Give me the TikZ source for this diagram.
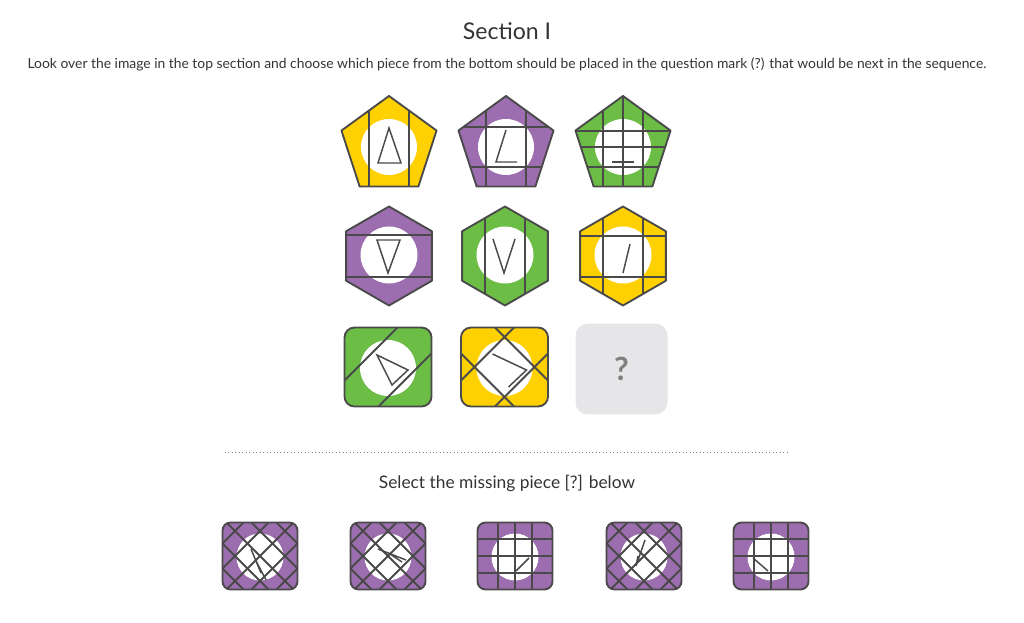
\documentclass[tikz,border=0pt]{standalone}
\usepackage{fontspec}
\setmainfont{Lato}
\usetikzlibrary{positioning}
\definecolor{pieceyellow}{HTML}{FFD100}
\definecolor{piecepurple}{HTML}{9C6DAF}
\definecolor{piecegreen}{HTML}{6BBD45}
\definecolor{edgegray}{HTML}{4A4A4A}
\definecolor{textgray}{HTML}{333333}
\definecolor{blankgray}{HTML}{E6E6E9}
\tikzstyle{outline} = [draw=edgegray, line width=1.4pt, line join=round]
\tikzstyle{cutline} = [draw=edgegray, line width=1.4pt]
\tikzstyle{figline} = [draw=edgegray, line width=1.1pt, line join=miter]
\tikzstyle{heading} = [text=textgray, inner sep=0pt]
\tikzstyle{blank-piece} = [rectangle, rounded corners=9pt, minimum width=69pt, minimum height=68pt, fill=blankgray, text=gray, font=\fontsize{24}{28}\selectfont\bfseries]
\def\pentpath{(-90:50) -- (-18:50) -- (54:50) -- (126:50) -- (198:50) -- cycle}
\def\hexpath{(-90:49.5) -- (-30:49.5) -- (30:49.5) -- (90:49.5) -- (150:49.5) -- (210:49.5) -- cycle}
\def\sqpath{[rounded corners=7.5pt] (-43.5,-39.5) rectangle (43.5,39.5)}
\def\optpath{[rounded corners=6pt] (-37.5,-33.5) rectangle (37.5,33.5)}

\begin{document}
\begin{tikzpicture}[x=0.75pt, y=-0.75pt]
    \useasboundingbox (0,0) rectangle (1024,623);

    % texts
    \node (title) [heading] at (507,31) {\fontsize{17.3}{21}\selectfont Section I};
    \node (instruction) [heading] at (507,64) {\fontsize{10.4}{12}\selectfont Look over the image in the top section and choose which piece from the bottom should be placed in the question mark (?) that would be next in the sequence.};
    \node (prompt) [heading] at (507,483) {\fontsize{13}{15}\selectfont Select the missing piece [?] below};
    \coordinate (rule-left) at (225,452);
    \coordinate (rule-right) at (790,452);
    \draw [gray, dotted, line width=0.6pt] (rule-left) -- (rule-right);

    % row 1: pentagons
    \begin{scope}[shift={(389,146)}]
        \fill [pieceyellow] \pentpath;
        \fill [white] (0,1) circle (28);
        \begin{scope} \clip \pentpath;
            \draw [cutline] (-20,-60) -- (-20,60) (20,-60) -- (20,60);
        \end{scope}
        \draw [outline] \pentpath;
        \draw [figline] (0,-18) -- (-11,17) -- (12,17) -- cycle;
    \end{scope}
    \begin{scope}[shift={(506,146)}]
        \fill [piecepurple] \pentpath;
        \fill [white] (0,1) circle (28);
        \begin{scope} \clip \pentpath;
            \draw [cutline] (-20,-60) -- (-20,60) (20,-60) -- (20,60);
            \draw [cutline] (-60,-19) -- (60,-19) (-60,21) -- (60,21);
        \end{scope}
        \draw [outline] \pentpath;
        \draw [figline] (0,-16) -- (-10,16) -- (11,16);
    \end{scope}
    \begin{scope}[shift={(623,146)}]
        \fill [piecegreen] \pentpath;
        \fill [white] (0,1) circle (28);
        \begin{scope} \clip \pentpath;
            \foreach \u in {-20,0,20} \draw [cutline] (\u,-60) -- (\u,60);
            \foreach \v in {-15,1,21} \draw [cutline] (-60,\v) -- (60,\v);
        \end{scope}
        \draw [outline] \pentpath;
        \draw [figline] (-11,16) -- (11,16);
    \end{scope}

    % row 2: hexagons
    \begin{scope}[shift={(389,256)}]
        \fill [piecepurple] \hexpath;
        \fill [white] (0,-1) circle (28.5);
        \begin{scope} \clip \hexpath;
            \draw [cutline] (-60,-21) -- (60,-21) (-60,21) -- (60,21);
        \end{scope}
        \draw [outline] \hexpath;
        \draw [figline] (-12,-16) -- (11,-16) -- (-1,17) -- cycle;
    \end{scope}
    \begin{scope}[shift={(505,256)}]
        \fill [piecegreen] \hexpath;
        \fill [white] (0,-1) circle (28.5);
        \begin{scope} \clip \hexpath;
            \draw [cutline] (-20,-60) -- (-20,60) (20,-60) -- (20,60);
        \end{scope}
        \draw [outline] \hexpath;
        \draw [figline] (-12,-17) -- (-1,17) -- (10,-17);
    \end{scope}
    \begin{scope}[shift={(623,256)}]
        \fill [pieceyellow] \hexpath;
        \fill [white] (0,-1) circle (28.5);
        \begin{scope} \clip \hexpath;
            \draw [cutline] (-20,-60) -- (-20,60) (20,-60) -- (20,60);
            \draw [cutline] (-60,-20) -- (60,-20) (-60,21) -- (60,21);
        \end{scope}
        \draw [outline] \hexpath;
        \draw [figline] (7,-12) -- (0,17);
    \end{scope}

    % row 3: rounded squares
    \begin{scope}[shift={(388,367)}]
        \fill [piecegreen] \sqpath;
        \fill [white] (0,1) circle (28);
        \begin{scope} \clip \sqpath;
            \foreach \k in {-30,30} \draw [cutline] (-60,\k+60) -- (60,\k-60);
        \end{scope}
        \draw [outline] \sqpath;
        \draw [figline] (-11,-12) -- (4,18) -- (20,3) -- cycle;
    \end{scope}
    \begin{scope}[shift={(504.5,367)}]
        \fill [pieceyellow] \sqpath;
        \fill [white] (0,1) circle (28);
        \begin{scope} \clip \sqpath;
            \foreach \k in {-30,30} {
                \draw [cutline] (-60,\k+60) -- (60,\k-60);
                \draw [cutline] (-60,-60-\k) -- (60,60-\k);
            }
        \end{scope}
        \draw [outline] \sqpath;
        \draw [figline] (-12,-13) -- (22,3) -- (4,20);
    \end{scope}
    \node (missing) [blank-piece] at (621.5,369) {?};

    % answer options
    \foreach \cx in {260,388,644} {
        \begin{scope}[shift={(\cx,556)}]
            \fill [piecepurple] \optpath;
            \fill [white] (0,1) circle (23.5);
            \begin{scope} \clip \optpath;
                \foreach \k in {-50,-25,0,25,50} {
                    \draw [cutline] (-60,\k+60) -- (60,\k-60);
                    \draw [cutline] (-60,-60-\k) -- (60,60-\k);
                }
            \end{scope}
            \draw [outline] \optpath;
        \end{scope}
    }
    \foreach \cx in {515,771} {
        \begin{scope}[shift={(\cx,556)}]
            \fill [piecepurple] \optpath;
            \fill [white] (0,1) circle (23.5);
            \begin{scope} \clip \optpath;
                \foreach \k in {-17,0,17} {
                    \draw [cutline] (\k,-40) -- (\k,40);
                    \draw [cutline] (-40,\k) -- (40,\k);
                }
            \end{scope}
            \draw [outline] \optpath;
        \end{scope}
    }
    \draw [figline] (251,549) -- (261,573) (255,559) -- (266,580);
    \draw [figline] (378,549) -- (406,560) (390,554) -- (402,562);
    \draw [figline] (516,571) -- (529,558);
    \draw [figline] (645,540) -- (636,566) -- (638,556);
    \draw [figline] (753,558) -- (768,571);
\end{tikzpicture}
\end{document}
